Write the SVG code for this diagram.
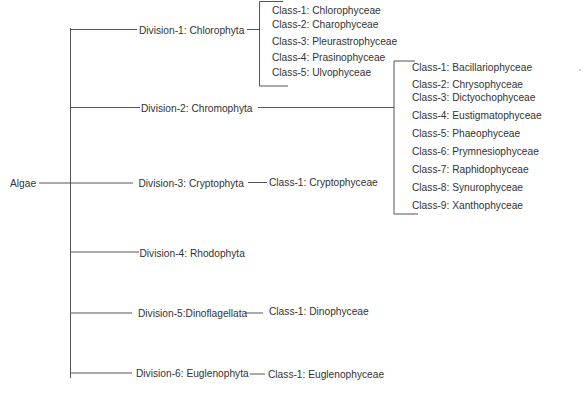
<svg xmlns="http://www.w3.org/2000/svg" width="587" height="400" viewBox="0 0 587 400">
<style>
text{font-family:"Liberation Sans",Arial,sans-serif;font-size:10.2px;fill:#333}
.c line{stroke:#555;stroke-width:1;fill:none}
</style>
<rect width="587" height="400" fill="#fff"/>
<g class="c" id="connectors">
<line x1="70.5" y1="28" x2="70.5" y2="378"/>
<line x1="39" y1="183" x2="70.5" y2="183"/>
<line x1="70.5" y1="29.5" x2="137" y2="29.5"/>
<line x1="247" y1="29.5" x2="259" y2="29.5"/>
<line x1="259.5" y1="1.5" x2="259.5" y2="86"/>
<line x1="259.5" y1="1.5" x2="283" y2="1.5"/>
<line x1="259.5" y1="86" x2="288" y2="86"/>
<line x1="70.5" y1="107.5" x2="140" y2="107.5"/>
<line x1="258" y1="107.5" x2="394" y2="107.5"/>
<line x1="394" y1="61" x2="394" y2="214"/>
<line x1="394" y1="61" x2="415" y2="61"/>
<line x1="394" y1="214" x2="418" y2="214"/>
<line x1="70.5" y1="183" x2="133" y2="183"/>
<line x1="248" y1="182.5" x2="267" y2="182.5"/>
<line x1="70.5" y1="252" x2="139" y2="252"/>
<line x1="70.5" y1="313" x2="132" y2="313"/>
<line x1="245" y1="313" x2="263" y2="313"/>
<line x1="70.5" y1="373" x2="132" y2="373"/>
<line x1="250" y1="374" x2="265" y2="374"/>
</g>
<circle cx="580" cy="70" r="0.7" fill="#777"/>
<g id="algae"><text x="10" y="186.7">Algae</text></g>
<g id="div1">
<text x="139" y="33.7">Division-1: Chlorophyta</text>
<g id="div1-classes">
<text x="272" y="13.7">Class-1: Chlorophyceae</text>
<text x="272" y="28">Class-2: Charophyceae</text>
<text x="272" y="45.4">Class-3: Pleurastrophyceae</text>
<text x="272" y="61.4">Class-4: Prasinophyceae</text>
<text x="272" y="75.7">Class-5: Ulvophyceae</text>
</g>
</g>
<g id="div2">
<text x="141" y="111.5">Division-2: Chromophyta</text>
<g id="div2-classes">
<text x="412" y="70.7">Class-1: Bacillariophyceae</text>
<text x="412" y="87.7">Class-2: Chrysophyceae</text>
<text x="412" y="100.7">Class-3: Dictyochophyceae</text>
<text x="412" y="118.7">Class-4: Eustigmatophyceae</text>
<text x="412" y="136.7">Class-5: Phaeophyceae</text>
<text x="412" y="154.7">Class-6: Prymnesiophyceae</text>
<text x="412" y="172.7">Class-7: Raphidophyceae</text>
<text x="412" y="190.7">Class-8: Synurophyceae</text>
<text x="412" y="208.7">Class-9: Xanthophyceae</text>
</g>
</g>
<g id="div3">
<text x="138.5" y="186.7">Division-3: Cryptophyta</text>
<text x="269" y="186.2">Class-1: Cryptophyceae</text>
</g>
<g id="div4"><text x="139.5" y="256.5">Division-4: Rhodophyta</text></g>
<g id="div5">
<text x="138" y="316.7">Division-5:Dinoflagellata</text>
<text x="269" y="314.7">Class-1: Dinophyceae</text>
</g>
<g id="div6">
<text x="136" y="376.7">Division-6: Euglenophyta</text>
<text x="268" y="377.7">Class-1: Euglenophyceae</text>
</g>
</svg>
